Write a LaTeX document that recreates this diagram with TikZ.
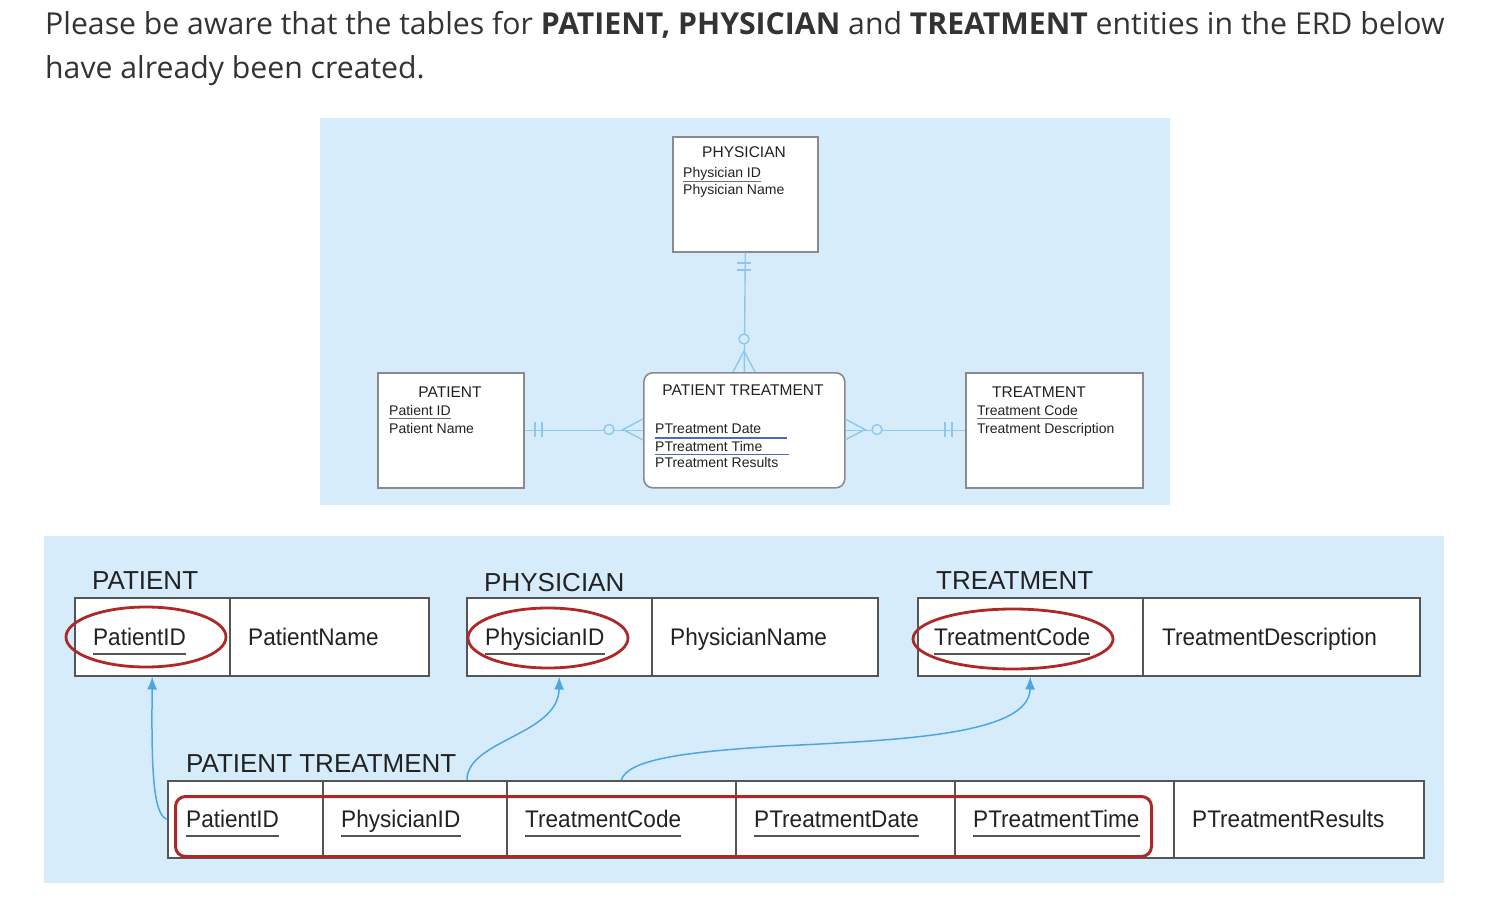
\documentclass[tikz,border=0pt]{standalone}
\usepackage{fontspec}
\setmainfont{Open Sans}
\newfontfamily\arial{Liberation Sans}
\newfontfamily\arialc[FakeStretch=0.94]{Liberation Sans}
\usetikzlibrary{arrows.meta,shapes.geometric,calc}
\definecolor{bg}{HTML}{D7ECFA}
\definecolor{erdline}{HTML}{8CC8EE}
\definecolor{arrowblue}{HTML}{4DA6E3}
\definecolor{keyred}{HTML}{AE2828}
\definecolor{txt}{HTML}{333333}
\definecolor{ink}{HTML}{222222}
\definecolor{erdgray}{HTML}{8A8A8A}
\definecolor{cellgray}{HTML}{555555}
\definecolor{ulblue}{HTML}{4A6CC0}
\begin{document}
\begin{tikzpicture}[x=1pt,y=-1pt,
  head/.style={font=\fontsize{30.2}{34}\selectfont, text=txt, inner sep=0, anchor=base west},
  erdbox/.style={draw=erdgray, line width=1.6, fill=white, inner sep=0, anchor=north west, minimum height=115},
  etitle/.style={font=\arial\fontsize{15.5}{18}\selectfont, text=ink, inner sep=0, anchor=base},
  efield/.style={font=\arial\fontsize{14}{16}\selectfont, text=ink, inner sep=0, anchor=base west},
  ekey/.style={draw=erdgray!80!black, line width=1},
  erdl/.style={draw=erdline, line width=1.4},
  cell/.style={draw=cellgray, line width=1.5, fill=white, inner sep=0, anchor=north west, minimum height=78},
  ttitle/.style={font=\arial\fontsize{26}{30}\selectfont, text=ink, inner sep=0, anchor=base west},
  fld/.style={font=\arialc\fontsize{24}{28}\selectfont, text=ink, inner sep=0, anchor=base west},
  uline/.style={draw=cellgray, line width=1.5},
  keyell/.style={draw=keyred, line width=2.8, ellipse, inner sep=0},
  arr/.style={draw=arrowblue, line width=1.5, -{Latex[length=13pt,width=10pt]}}
]
\useasboundingbox (0,0) rectangle (1512,912);
\fill[white] (0,0) rectangle (1512,912);

% heading
\node[head] (h1) at (45,34.5) {Please be aware that the tables for \textbf{PATIENT, PHYSICIAN} and \textbf{TREATMENT} entities in the ERD below};
\node[head] (h2) at (45,78.5) {have already been created.};

% backgrounds
\fill[bg] (320,118) rectangle (1170,505);
\fill[bg] (44,536) rectangle (1444,883);

% ---------- top ERD ----------
\node[erdbox, minimum width=145] (phy) at (672,136) {};
\node[erdbox, minimum width=146] (pat) at (377,372) {};
\node[erdbox, rounded corners=9, minimum width=201] (ptr) at (643,372) {};
\node[erdbox, minimum width=177] (trt) at (965,372) {};

\node[etitle] (phyT) at (744,158) {PHYSICIAN};
\node[efield] (phyK) at (683,178) {Physician ID};
\draw[ekey] ([yshift=-3.5]phyK.base west) -- ([yshift=-3.5]phyK.base east);
\node[efield] (phyN) at (683,195) {Physician Name};

\node[etitle] (patT) at (450,397) {PATIENT};
\node[efield] (patK) at (389,415) {Patient ID};
\draw[ekey] ([yshift=-3.5]patK.base west) -- ([yshift=-3.5]patK.base east);
\node[efield] (patN) at (389,433) {Patient Name};

\node[etitle] (ptrT) at (743,395) {PATIENT TREATMENT};
\node[efield] (ptrD) at (655,433) {PTreatment Date};
\draw[draw=ulblue, line width=1.2] ([yshift=-5]ptrD.base west) -- ++(132,0);
\node[efield] (ptrM) at (655,451) {PTreatment Time};
\draw[draw=ulblue, line width=1.2] ([yshift=-3.5]ptrM.base west) -- ++(134,0);
\node[efield] (ptrR) at (655,467) {PTreatment Results};

\node[etitle] (trtT) at (1039,397) {TREATMENT};
\node[efield] (trtK) at (977,415) {Treatment Code};
\draw[ekey] ([yshift=-3.5]trtK.base west) -- ([yshift=-3.5]trtK.base east);
\node[efield] (trtN) at (977,433) {Treatment Description};

% relationship PHYSICIAN -- PATIENT TREATMENT
\draw[erdl] (phy.south) -- (ptr.north);
\draw[erdl] (737,263) -- (751,263) (737,270) -- (751,270);
\draw[erdl] (733,372) -- (744,351) -- (755,372);
\draw[erdl, fill=bg] (744,339) circle[radius=5];

% PATIENT -- PATIENT TREATMENT
\draw[erdl] (pat.east) -- (ptr.west);
\draw[erdl] (535,422) -- (535,437) (542,422) -- (542,437);
\draw[erdl] (643,419) -- (623,429.5) -- (643,440);
\draw[erdl, fill=bg] (609,429.5) circle[radius=5];

% PATIENT TREATMENT -- TREATMENT
\draw[erdl] (ptr.east) -- (trt.west);
\draw[erdl] (845,419) -- (865,429.5) -- (845,440);
\draw[erdl, fill=bg] (877,429.5) circle[radius=5];
\draw[erdl] (945,422) -- (945,437) (952,422) -- (952,437);

% ---------- bottom relational tables ----------
\node[ttitle] (tPa) at (92,589) {PATIENT};
\node[ttitle] (tPh) at (484,591) {PHYSICIAN};
\node[ttitle] (tTr) at (936,589) {TREATMENT};
\node[ttitle] (tPt) at (186,772) {PATIENT TREATMENT};

\node[cell, minimum width=155] (pa1) at (74,597) {};
\node[cell, minimum width=199] (pa2) at (229,597) {};
\node[cell, minimum width=185] (ph1) at (466,597) {};
\node[cell, minimum width=226] (ph2) at (651,597) {};
\node[cell, minimum width=225] (tr1) at (917,597) {};
\node[cell, minimum width=277] (tr2) at (1142,597) {};

\node[cell, minimum width=155, minimum height=77] (pt1) at (167,780) {};
\node[cell, minimum width=184, minimum height=77] (pt2) at (322,780) {};
\node[cell, minimum width=229, minimum height=77] (pt3) at (506,780) {};
\node[cell, minimum width=219, minimum height=77] (pt4) at (735,780) {};
\node[cell, minimum width=219, minimum height=77] (pt5) at (954,780) {};
\node[cell, minimum width=250, minimum height=77] (pt6) at (1173,780) {};

\node[fld] (fPaK) at (93,645) {PatientID};
\node[fld] (fPaN) at (248,645) {PatientName};
\node[fld] (fPhK) at (485,645) {PhysicianID};
\node[fld] (fPhN) at (670,645) {PhysicianName};
\node[fld] (fTrK) at (934,645) {TreatmentCode};
\node[fld] (fTrN) at (1162,645) {TreatmentDescription};
\foreach \n in {fPaK,fPhK,fTrK}
  \draw[uline] ([yshift=-9]\n.base west) -- ([yshift=-9]\n.base east);

\node[fld] (g1) at (186,827) {PatientID};
\node[fld] (g2) at (341,827) {PhysicianID};
\node[fld] (g3) at (525,827) {TreatmentCode};
\node[fld] (g4) at (754,827) {PTreatmentDate};
\node[fld] (g5) at (973,827) {PTreatmentTime};
\node[fld] (g6) at (1192,827) {PTreatmentResults};
\foreach \n in {g1,g2,g3,g4,g5}
  \draw[uline] ([yshift=-9]\n.base west) -- ([yshift=-9]\n.base east);

% key markings
\node[keyell, minimum width=160, minimum height=60] (e1) at (146,637) {};
\node[keyell, minimum width=160, minimum height=60] (e2) at (548,638) {};
\node[keyell, minimum width=200, minimum height=60] (e3) at (1013,639) {};
\node[draw=keyred, line width=3, rounded corners=10, minimum width=976, minimum height=60, anchor=north west, inner sep=0] (pk) at (174,795) {};

% foreign key arrows
\draw[arr] (pt1.west) .. controls (152,815) and (151.5,760) .. (pa1.south);
\draw[arr] ($(pt2.north west)+(145,0)$) .. controls (467,740) and (558.5,735) .. (ph1.south);
\draw[arr] (pt3.north) .. controls (628,760) and (680,752) .. (780,746) .. controls (900,740) and (1029.5,735) .. (tr1.south);
\end{tikzpicture}
\end{document}
